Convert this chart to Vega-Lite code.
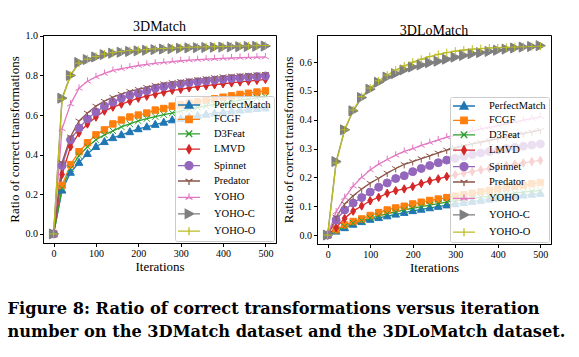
{
"$schema": "https://vega.github.io/schema/vega-lite/v6.json",
"background": "white",
"padding": {"left": 7, "top": 19, "right": 20, "bottom": 5},
"spacing": 4,
"config": {
 "font": "Liberation Serif",
 "view": {"stroke": "black", "strokeWidth": 1},
 "axis": {"grid": false, "domainColor": "black", "domainWidth": 1, "tickColor": "black", "tickSize": 3.5, "labelFont": "Liberation Serif", "labelFontSize": 10, "labelColor": "black", "labelPadding": 2, "titleFont": "Liberation Serif", "titleFontSize": 13, "titleFontWeight": "normal", "titleColor": "black"},
 "axisX": {"titlePadding": 2},
 "axisY": {"titlePadding": 4},
 "title": {"font": "Liberation Serif", "fontSize": 14, "fontWeight": "normal", "color": "black", "offset": -3, "baseline": "alphabetic", "anchor": "middle", "frame": "group"},
 "legend": {"orient": "bottom-right", "offset": 2, "fillColor": "rgba(255,255,255,0.8)", "strokeColor": "#cccccc", "padding": 3, "cornerRadius": 2, "labelFont": "Liberation Serif", "labelFontSize": 10.5, "labelColor": "black", "symbolSize": 100, "rowPadding": 2.4, "symbolOffset": 5, "labelOffset": 19, "symbolStrokeWidth": 1.3, "symbolOpacity": 1}
},
"title": {"text": ["Figure 8: Ratio of correct transformations versus iteration", "number on the 3DMatch dataset and the 3DLoMatch dataset."], "orient": "bottom", "anchor": "start", "font": "DejaVu Serif", "fontSize": 16.2, "fontWeight": "bold", "lineHeight": 22.7, "offset": 26, "dx": 0, "color": "black", "frame": "bounds", "baseline": "top"},
"resolve": {"scale": {"x": "independent", "y": "independent", "color": "independent", "shape": "independent", "fill": "independent", "stroke": "independent"}, "legend": {"shape": "independent", "fill": "independent", "stroke": "independent"}},
"datasets": {
"a": [
{"s":"PerfectMatch","x":0,"y":0},{"s":"PerfectMatch","x":20,"y":0.22},{"s":"PerfectMatch","x":40,"y":0.31},{"s":"PerfectMatch","x":60,"y":0.36},{"s":"PerfectMatch","x":80,"y":0.405},{"s":"PerfectMatch","x":100,"y":0.44},{"s":"PerfectMatch","x":120,"y":0.465},{"s":"PerfectMatch","x":140,"y":0.485},{"s":"PerfectMatch","x":160,"y":0.5},{"s":"PerfectMatch","x":180,"y":0.515},{"s":"PerfectMatch","x":200,"y":0.53},{"s":"PerfectMatch","x":220,"y":0.54},{"s":"PerfectMatch","x":240,"y":0.552},{"s":"PerfectMatch","x":260,"y":0.563},{"s":"PerfectMatch","x":280,"y":0.575},{"s":"PerfectMatch","x":300,"y":0.582},{"s":"PerfectMatch","x":320,"y":0.59},{"s":"PerfectMatch","x":340,"y":0.597},{"s":"PerfectMatch","x":360,"y":0.603},{"s":"PerfectMatch","x":380,"y":0.609},{"s":"PerfectMatch","x":400,"y":0.614},{"s":"PerfectMatch","x":420,"y":0.619},{"s":"PerfectMatch","x":440,"y":0.624},{"s":"PerfectMatch","x":460,"y":0.628},{"s":"PerfectMatch","x":480,"y":0.632},{"s":"PerfectMatch","x":500,"y":0.635},
{"s":"FCGF","x":0,"y":0},{"s":"FCGF","x":20,"y":0.245},{"s":"FCGF","x":40,"y":0.35},{"s":"FCGF","x":60,"y":0.415},{"s":"FCGF","x":80,"y":0.46},{"s":"FCGF","x":100,"y":0.5},{"s":"FCGF","x":120,"y":0.525},{"s":"FCGF","x":140,"y":0.555},{"s":"FCGF","x":160,"y":0.575},{"s":"FCGF","x":180,"y":0.59},{"s":"FCGF","x":200,"y":0.6},{"s":"FCGF","x":220,"y":0.61},{"s":"FCGF","x":240,"y":0.625},{"s":"FCGF","x":260,"y":0.633},{"s":"FCGF","x":280,"y":0.645},{"s":"FCGF","x":300,"y":0.652},{"s":"FCGF","x":320,"y":0.66},{"s":"FCGF","x":340,"y":0.667},{"s":"FCGF","x":360,"y":0.675},{"s":"FCGF","x":380,"y":0.682},{"s":"FCGF","x":400,"y":0.69},{"s":"FCGF","x":420,"y":0.697},{"s":"FCGF","x":440,"y":0.704},{"s":"FCGF","x":460,"y":0.71},{"s":"FCGF","x":480,"y":0.716},{"s":"FCGF","x":500,"y":0.722},
{"s":"D3Feat","x":0,"y":0},{"s":"D3Feat","x":20,"y":0.23},{"s":"D3Feat","x":40,"y":0.33},{"s":"D3Feat","x":60,"y":0.395},{"s":"D3Feat","x":80,"y":0.44},{"s":"D3Feat","x":100,"y":0.475},{"s":"D3Feat","x":120,"y":0.5},{"s":"D3Feat","x":140,"y":0.52},{"s":"D3Feat","x":160,"y":0.54},{"s":"D3Feat","x":180,"y":0.555},{"s":"D3Feat","x":200,"y":0.57},{"s":"D3Feat","x":220,"y":0.582},{"s":"D3Feat","x":240,"y":0.592},{"s":"D3Feat","x":260,"y":0.602},{"s":"D3Feat","x":280,"y":0.61},{"s":"D3Feat","x":300,"y":0.62},{"s":"D3Feat","x":320,"y":0.63},{"s":"D3Feat","x":340,"y":0.638},{"s":"D3Feat","x":360,"y":0.646},{"s":"D3Feat","x":380,"y":0.654},{"s":"D3Feat","x":400,"y":0.661},{"s":"D3Feat","x":420,"y":0.668},{"s":"D3Feat","x":440,"y":0.675},{"s":"D3Feat","x":460,"y":0.681},{"s":"D3Feat","x":480,"y":0.687},{"s":"D3Feat","x":500,"y":0.692},
{"s":"LMVD","x":0,"y":0},{"s":"LMVD","x":20,"y":0.3},{"s":"LMVD","x":40,"y":0.44},{"s":"LMVD","x":60,"y":0.51},{"s":"LMVD","x":80,"y":0.555},{"s":"LMVD","x":100,"y":0.59},{"s":"LMVD","x":120,"y":0.62},{"s":"LMVD","x":140,"y":0.64},{"s":"LMVD","x":160,"y":0.655},{"s":"LMVD","x":180,"y":0.67},{"s":"LMVD","x":200,"y":0.685},{"s":"LMVD","x":220,"y":0.695},{"s":"LMVD","x":240,"y":0.705},{"s":"LMVD","x":260,"y":0.715},{"s":"LMVD","x":280,"y":0.725},{"s":"LMVD","x":300,"y":0.73},{"s":"LMVD","x":320,"y":0.737},{"s":"LMVD","x":340,"y":0.743},{"s":"LMVD","x":360,"y":0.748},{"s":"LMVD","x":380,"y":0.753},{"s":"LMVD","x":400,"y":0.758},{"s":"LMVD","x":420,"y":0.762},{"s":"LMVD","x":440,"y":0.767},{"s":"LMVD","x":460,"y":0.771},{"s":"LMVD","x":480,"y":0.775},{"s":"LMVD","x":500,"y":0.78},
{"s":"Spinnet","x":0,"y":0},{"s":"Spinnet","x":20,"y":0.345},{"s":"Spinnet","x":40,"y":0.475},{"s":"Spinnet","x":60,"y":0.535},{"s":"Spinnet","x":80,"y":0.58},{"s":"Spinnet","x":100,"y":0.615},{"s":"Spinnet","x":120,"y":0.645},{"s":"Spinnet","x":140,"y":0.665},{"s":"Spinnet","x":160,"y":0.685},{"s":"Spinnet","x":180,"y":0.7},{"s":"Spinnet","x":200,"y":0.71},{"s":"Spinnet","x":220,"y":0.722},{"s":"Spinnet","x":240,"y":0.735},{"s":"Spinnet","x":260,"y":0.743},{"s":"Spinnet","x":280,"y":0.75},{"s":"Spinnet","x":300,"y":0.757},{"s":"Spinnet","x":320,"y":0.763},{"s":"Spinnet","x":340,"y":0.768},{"s":"Spinnet","x":360,"y":0.772},{"s":"Spinnet","x":380,"y":0.776},{"s":"Spinnet","x":400,"y":0.78},{"s":"Spinnet","x":420,"y":0.784},{"s":"Spinnet","x":440,"y":0.788},{"s":"Spinnet","x":460,"y":0.791},{"s":"Spinnet","x":480,"y":0.794},{"s":"Spinnet","x":500,"y":0.797},
{"s":"Predator","x":0,"y":0},{"s":"Predator","x":20,"y":0.36},{"s":"Predator","x":40,"y":0.49},{"s":"Predator","x":60,"y":0.57},{"s":"Predator","x":80,"y":0.61},{"s":"Predator","x":100,"y":0.645},{"s":"Predator","x":120,"y":0.67},{"s":"Predator","x":140,"y":0.69},{"s":"Predator","x":160,"y":0.705},{"s":"Predator","x":180,"y":0.72},{"s":"Predator","x":200,"y":0.73},{"s":"Predator","x":220,"y":0.74},{"s":"Predator","x":240,"y":0.75},{"s":"Predator","x":260,"y":0.758},{"s":"Predator","x":280,"y":0.765},{"s":"Predator","x":300,"y":0.77},{"s":"Predator","x":320,"y":0.775},{"s":"Predator","x":340,"y":0.78},{"s":"Predator","x":360,"y":0.785},{"s":"Predator","x":380,"y":0.79},{"s":"Predator","x":400,"y":0.794},{"s":"Predator","x":420,"y":0.797},{"s":"Predator","x":440,"y":0.8},{"s":"Predator","x":460,"y":0.802},{"s":"Predator","x":480,"y":0.804},{"s":"Predator","x":500,"y":0.806},
{"s":"YOHO","x":0,"y":0},{"s":"YOHO","x":20,"y":0.53},{"s":"YOHO","x":40,"y":0.655},{"s":"YOHO","x":60,"y":0.735},{"s":"YOHO","x":80,"y":0.77},{"s":"YOHO","x":100,"y":0.793},{"s":"YOHO","x":120,"y":0.81},{"s":"YOHO","x":140,"y":0.825},{"s":"YOHO","x":160,"y":0.834},{"s":"YOHO","x":180,"y":0.842},{"s":"YOHO","x":200,"y":0.85},{"s":"YOHO","x":220,"y":0.856},{"s":"YOHO","x":240,"y":0.862},{"s":"YOHO","x":260,"y":0.866},{"s":"YOHO","x":280,"y":0.87},{"s":"YOHO","x":300,"y":0.874},{"s":"YOHO","x":320,"y":0.877},{"s":"YOHO","x":340,"y":0.88},{"s":"YOHO","x":360,"y":0.882},{"s":"YOHO","x":380,"y":0.884},{"s":"YOHO","x":400,"y":0.886},{"s":"YOHO","x":420,"y":0.888},{"s":"YOHO","x":440,"y":0.89},{"s":"YOHO","x":460,"y":0.891},{"s":"YOHO","x":480,"y":0.892},{"s":"YOHO","x":500,"y":0.893},
{"s":"YOHO-C","x":0,"y":0},{"s":"YOHO-C","x":20,"y":0.685},{"s":"YOHO-C","x":40,"y":0.8},{"s":"YOHO-C","x":60,"y":0.865},{"s":"YOHO-C","x":80,"y":0.88},{"s":"YOHO-C","x":100,"y":0.893},{"s":"YOHO-C","x":120,"y":0.905},{"s":"YOHO-C","x":140,"y":0.912},{"s":"YOHO-C","x":160,"y":0.917},{"s":"YOHO-C","x":180,"y":0.921},{"s":"YOHO-C","x":200,"y":0.924},{"s":"YOHO-C","x":220,"y":0.927},{"s":"YOHO-C","x":240,"y":0.93},{"s":"YOHO-C","x":260,"y":0.933},{"s":"YOHO-C","x":280,"y":0.935},{"s":"YOHO-C","x":300,"y":0.937},{"s":"YOHO-C","x":320,"y":0.939},{"s":"YOHO-C","x":340,"y":0.94},{"s":"YOHO-C","x":360,"y":0.941},{"s":"YOHO-C","x":380,"y":0.942},{"s":"YOHO-C","x":400,"y":0.943},{"s":"YOHO-C","x":420,"y":0.944},{"s":"YOHO-C","x":440,"y":0.945},{"s":"YOHO-C","x":460,"y":0.946},{"s":"YOHO-C","x":480,"y":0.947},{"s":"YOHO-C","x":500,"y":0.948},
{"s":"YOHO-O","x":0,"y":0},{"s":"YOHO-O","x":20,"y":0.68},{"s":"YOHO-O","x":40,"y":0.8},{"s":"YOHO-O","x":60,"y":0.862},{"s":"YOHO-O","x":80,"y":0.882},{"s":"YOHO-O","x":100,"y":0.896},{"s":"YOHO-O","x":120,"y":0.908},{"s":"YOHO-O","x":140,"y":0.915},{"s":"YOHO-O","x":160,"y":0.92},{"s":"YOHO-O","x":180,"y":0.925},{"s":"YOHO-O","x":200,"y":0.928},{"s":"YOHO-O","x":220,"y":0.931},{"s":"YOHO-O","x":240,"y":0.934},{"s":"YOHO-O","x":260,"y":0.936},{"s":"YOHO-O","x":280,"y":0.938},{"s":"YOHO-O","x":300,"y":0.94},{"s":"YOHO-O","x":320,"y":0.942},{"s":"YOHO-O","x":340,"y":0.943},{"s":"YOHO-O","x":360,"y":0.944},{"s":"YOHO-O","x":380,"y":0.945},{"s":"YOHO-O","x":400,"y":0.946},{"s":"YOHO-O","x":420,"y":0.947},{"s":"YOHO-O","x":440,"y":0.948},{"s":"YOHO-O","x":460,"y":0.949},{"s":"YOHO-O","x":480,"y":0.95},{"s":"YOHO-O","x":500,"y":0.951}
],
"b": [
{"s":"PerfectMatch","x":0,"y":0},{"s":"PerfectMatch","x":20,"y":0.013},{"s":"PerfectMatch","x":40,"y":0.025},{"s":"PerfectMatch","x":60,"y":0.037},{"s":"PerfectMatch","x":80,"y":0.046},{"s":"PerfectMatch","x":100,"y":0.054},{"s":"PerfectMatch","x":120,"y":0.06},{"s":"PerfectMatch","x":140,"y":0.066},{"s":"PerfectMatch","x":160,"y":0.072},{"s":"PerfectMatch","x":180,"y":0.078},{"s":"PerfectMatch","x":200,"y":0.084},{"s":"PerfectMatch","x":220,"y":0.089},{"s":"PerfectMatch","x":240,"y":0.094},{"s":"PerfectMatch","x":260,"y":0.099},{"s":"PerfectMatch","x":280,"y":0.104},{"s":"PerfectMatch","x":300,"y":0.108},{"s":"PerfectMatch","x":320,"y":0.112},{"s":"PerfectMatch","x":340,"y":0.116},{"s":"PerfectMatch","x":360,"y":0.12},{"s":"PerfectMatch","x":380,"y":0.124},{"s":"PerfectMatch","x":400,"y":0.128},{"s":"PerfectMatch","x":420,"y":0.131},{"s":"PerfectMatch","x":440,"y":0.135},{"s":"PerfectMatch","x":460,"y":0.138},{"s":"PerfectMatch","x":480,"y":0.141},{"s":"PerfectMatch","x":500,"y":0.144},
{"s":"FCGF","x":0,"y":0},{"s":"FCGF","x":20,"y":0.018},{"s":"FCGF","x":40,"y":0.035},{"s":"FCGF","x":60,"y":0.047},{"s":"FCGF","x":80,"y":0.056},{"s":"FCGF","x":100,"y":0.068},{"s":"FCGF","x":120,"y":0.078},{"s":"FCGF","x":140,"y":0.087},{"s":"FCGF","x":160,"y":0.094},{"s":"FCGF","x":180,"y":0.1},{"s":"FCGF","x":200,"y":0.108},{"s":"FCGF","x":220,"y":0.114},{"s":"FCGF","x":240,"y":0.12},{"s":"FCGF","x":260,"y":0.125},{"s":"FCGF","x":280,"y":0.13},{"s":"FCGF","x":300,"y":0.135},{"s":"FCGF","x":320,"y":0.14},{"s":"FCGF","x":340,"y":0.145},{"s":"FCGF","x":360,"y":0.15},{"s":"FCGF","x":380,"y":0.155},{"s":"FCGF","x":400,"y":0.16},{"s":"FCGF","x":420,"y":0.164},{"s":"FCGF","x":440,"y":0.169},{"s":"FCGF","x":460,"y":0.173},{"s":"FCGF","x":480,"y":0.178},{"s":"FCGF","x":500,"y":0.182},
{"s":"D3Feat","x":0,"y":0},{"s":"D3Feat","x":20,"y":0.015},{"s":"D3Feat","x":40,"y":0.03},{"s":"D3Feat","x":60,"y":0.041},{"s":"D3Feat","x":80,"y":0.05},{"s":"D3Feat","x":100,"y":0.059},{"s":"D3Feat","x":120,"y":0.066},{"s":"D3Feat","x":140,"y":0.074},{"s":"D3Feat","x":160,"y":0.08},{"s":"D3Feat","x":180,"y":0.087},{"s":"D3Feat","x":200,"y":0.093},{"s":"D3Feat","x":220,"y":0.099},{"s":"D3Feat","x":240,"y":0.104},{"s":"D3Feat","x":260,"y":0.109},{"s":"D3Feat","x":280,"y":0.114},{"s":"D3Feat","x":300,"y":0.119},{"s":"D3Feat","x":320,"y":0.123},{"s":"D3Feat","x":340,"y":0.127},{"s":"D3Feat","x":360,"y":0.131},{"s":"D3Feat","x":380,"y":0.135},{"s":"D3Feat","x":400,"y":0.139},{"s":"D3Feat","x":420,"y":0.143},{"s":"D3Feat","x":440,"y":0.146},{"s":"D3Feat","x":460,"y":0.149},{"s":"D3Feat","x":480,"y":0.152},{"s":"D3Feat","x":500,"y":0.155},
{"s":"LMVD","x":0,"y":0},{"s":"LMVD","x":20,"y":0.026},{"s":"LMVD","x":40,"y":0.058},{"s":"LMVD","x":60,"y":0.083},{"s":"LMVD","x":80,"y":0.101},{"s":"LMVD","x":100,"y":0.119},{"s":"LMVD","x":120,"y":0.131},{"s":"LMVD","x":140,"y":0.145},{"s":"LMVD","x":160,"y":0.154},{"s":"LMVD","x":180,"y":0.16},{"s":"LMVD","x":200,"y":0.168},{"s":"LMVD","x":220,"y":0.179},{"s":"LMVD","x":240,"y":0.188},{"s":"LMVD","x":260,"y":0.195},{"s":"LMVD","x":280,"y":0.203},{"s":"LMVD","x":300,"y":0.209},{"s":"LMVD","x":320,"y":0.215},{"s":"LMVD","x":340,"y":0.22},{"s":"LMVD","x":360,"y":0.226},{"s":"LMVD","x":380,"y":0.231},{"s":"LMVD","x":400,"y":0.236},{"s":"LMVD","x":420,"y":0.241},{"s":"LMVD","x":440,"y":0.246},{"s":"LMVD","x":460,"y":0.25},{"s":"LMVD","x":480,"y":0.255},{"s":"LMVD","x":500,"y":0.259},
{"s":"Spinnet","x":0,"y":0},{"s":"Spinnet","x":20,"y":0.052},{"s":"Spinnet","x":40,"y":0.087},{"s":"Spinnet","x":60,"y":0.111},{"s":"Spinnet","x":80,"y":0.13},{"s":"Spinnet","x":100,"y":0.149},{"s":"Spinnet","x":120,"y":0.166},{"s":"Spinnet","x":140,"y":0.181},{"s":"Spinnet","x":160,"y":0.196},{"s":"Spinnet","x":180,"y":0.206},{"s":"Spinnet","x":200,"y":0.22},{"s":"Spinnet","x":220,"y":0.231},{"s":"Spinnet","x":240,"y":0.241},{"s":"Spinnet","x":260,"y":0.251},{"s":"Spinnet","x":280,"y":0.26},{"s":"Spinnet","x":300,"y":0.266},{"s":"Spinnet","x":320,"y":0.273},{"s":"Spinnet","x":340,"y":0.279},{"s":"Spinnet","x":360,"y":0.285},{"s":"Spinnet","x":380,"y":0.29},{"s":"Spinnet","x":400,"y":0.295},{"s":"Spinnet","x":420,"y":0.3},{"s":"Spinnet","x":440,"y":0.304},{"s":"Spinnet","x":460,"y":0.308},{"s":"Spinnet","x":480,"y":0.312},{"s":"Spinnet","x":500,"y":0.316},
{"s":"Predator","x":0,"y":0},{"s":"Predator","x":20,"y":0.062},{"s":"Predator","x":40,"y":0.108},{"s":"Predator","x":60,"y":0.136},{"s":"Predator","x":80,"y":0.16},{"s":"Predator","x":100,"y":0.18},{"s":"Predator","x":120,"y":0.197},{"s":"Predator","x":140,"y":0.215},{"s":"Predator","x":160,"y":0.231},{"s":"Predator","x":180,"y":0.245},{"s":"Predator","x":200,"y":0.255},{"s":"Predator","x":220,"y":0.265},{"s":"Predator","x":240,"y":0.275},{"s":"Predator","x":260,"y":0.285},{"s":"Predator","x":280,"y":0.295},{"s":"Predator","x":300,"y":0.302},{"s":"Predator","x":320,"y":0.309},{"s":"Predator","x":340,"y":0.316},{"s":"Predator","x":360,"y":0.322},{"s":"Predator","x":380,"y":0.328},{"s":"Predator","x":400,"y":0.334},{"s":"Predator","x":420,"y":0.34},{"s":"Predator","x":440,"y":0.346},{"s":"Predator","x":460,"y":0.352},{"s":"Predator","x":480,"y":0.358},{"s":"Predator","x":500,"y":0.364},
{"s":"YOHO","x":0,"y":0},{"s":"YOHO","x":20,"y":0.08},{"s":"YOHO","x":40,"y":0.13},{"s":"YOHO","x":60,"y":0.17},{"s":"YOHO","x":80,"y":0.2},{"s":"YOHO","x":100,"y":0.226},{"s":"YOHO","x":120,"y":0.246},{"s":"YOHO","x":140,"y":0.262},{"s":"YOHO","x":160,"y":0.277},{"s":"YOHO","x":180,"y":0.29},{"s":"YOHO","x":200,"y":0.3},{"s":"YOHO","x":220,"y":0.311},{"s":"YOHO","x":240,"y":0.321},{"s":"YOHO","x":260,"y":0.33},{"s":"YOHO","x":280,"y":0.34},{"s":"YOHO","x":300,"y":0.347},{"s":"YOHO","x":320,"y":0.354},{"s":"YOHO","x":340,"y":0.361},{"s":"YOHO","x":360,"y":0.368},{"s":"YOHO","x":380,"y":0.374},{"s":"YOHO","x":400,"y":0.38},{"s":"YOHO","x":420,"y":0.387},{"s":"YOHO","x":440,"y":0.393},{"s":"YOHO","x":460,"y":0.399},{"s":"YOHO","x":480,"y":0.405},{"s":"YOHO","x":500,"y":0.411},
{"s":"YOHO-C","x":0,"y":0},{"s":"YOHO-C","x":20,"y":0.255},{"s":"YOHO-C","x":40,"y":0.365},{"s":"YOHO-C","x":60,"y":0.431},{"s":"YOHO-C","x":80,"y":0.477},{"s":"YOHO-C","x":100,"y":0.506},{"s":"YOHO-C","x":120,"y":0.53},{"s":"YOHO-C","x":140,"y":0.548},{"s":"YOHO-C","x":160,"y":0.56},{"s":"YOHO-C","x":180,"y":0.573},{"s":"YOHO-C","x":200,"y":0.583},{"s":"YOHO-C","x":220,"y":0.59},{"s":"YOHO-C","x":240,"y":0.598},{"s":"YOHO-C","x":260,"y":0.603},{"s":"YOHO-C","x":280,"y":0.61},{"s":"YOHO-C","x":300,"y":0.617},{"s":"YOHO-C","x":320,"y":0.623},{"s":"YOHO-C","x":340,"y":0.629},{"s":"YOHO-C","x":360,"y":0.633},{"s":"YOHO-C","x":380,"y":0.637},{"s":"YOHO-C","x":400,"y":0.641},{"s":"YOHO-C","x":420,"y":0.645},{"s":"YOHO-C","x":440,"y":0.649},{"s":"YOHO-C","x":460,"y":0.652},{"s":"YOHO-C","x":480,"y":0.654},{"s":"YOHO-C","x":500,"y":0.657},
{"s":"YOHO-O","x":0,"y":0},{"s":"YOHO-O","x":20,"y":0.25},{"s":"YOHO-O","x":40,"y":0.365},{"s":"YOHO-O","x":60,"y":0.434},{"s":"YOHO-O","x":80,"y":0.48},{"s":"YOHO-O","x":100,"y":0.51},{"s":"YOHO-O","x":120,"y":0.535},{"s":"YOHO-O","x":140,"y":0.555},{"s":"YOHO-O","x":160,"y":0.572},{"s":"YOHO-O","x":180,"y":0.587},{"s":"YOHO-O","x":200,"y":0.6},{"s":"YOHO-O","x":220,"y":0.61},{"s":"YOHO-O","x":240,"y":0.619},{"s":"YOHO-O","x":260,"y":0.627},{"s":"YOHO-O","x":280,"y":0.633},{"s":"YOHO-O","x":300,"y":0.638},{"s":"YOHO-O","x":320,"y":0.642},{"s":"YOHO-O","x":340,"y":0.645},{"s":"YOHO-O","x":360,"y":0.647},{"s":"YOHO-O","x":380,"y":0.649},{"s":"YOHO-O","x":400,"y":0.65},{"s":"YOHO-O","x":420,"y":0.651},{"s":"YOHO-O","x":440,"y":0.652},{"s":"YOHO-O","x":460,"y":0.653},{"s":"YOHO-O","x":480,"y":0.654},{"s":"YOHO-O","x":500,"y":0.655}
]
},
"hconcat": [
{
 "width": 233, "height": 208,
 "title": {"text": "3DMatch"},
 "data": {"name": "a"},
 "resolve": {"scale": {"shape": "independent", "fill": "independent", "stroke": "independent"}, "legend": {"shape": "independent", "fill": "independent", "stroke": "independent"}},
 "encoding": {
  "x": {"field": "x", "type": "quantitative", "scale": {"domain": [-25, 525], "nice": false, "zero": false}, "axis": {"values": [0, 100, 200, 300, 400, 500], "title": "Iterations"}},
  "y": {"field": "y", "type": "quantitative", "scale": {"domain": [-0.046, 1.004], "nice": false, "zero": false}, "axis": {"values": [0, 0.2, 0.4, 0.6, 0.8, 1.0], "format": ".1f", "title": "Ratio of correct transformations"}}
 },
 "layer": [
  {"mark": {"type": "line", "strokeWidth": 1.3},
   "encoding": {"color": {"field": "s", "type": "nominal", "scale": {"domain": ["PerfectMatch","FCGF","D3Feat","LMVD","Spinnet","Predator","YOHO","YOHO-C","YOHO-O","~"], "range": ["#1f77b4","#ff7f0e","#2ca02c","#d62728","#9467bd","#8c564b","#e377c2","#7f7f7f","#bcbd22","#000000"]}, "legend": null}}},
  {"mark": {"type": "point", "opacity": 1, "strokeWidth": 1, "size": 64},
   "encoding": {
    "stroke": {"field": "s", "type": "nominal", "scale": {"domain": ["PerfectMatch","FCGF","D3Feat","LMVD","Spinnet","Predator","YOHO","YOHO-C","YOHO-O"], "range": ["#1f77b4","#ff7f0e","#2ca02c","#d62728","#9467bd","#8c564b","#e377c2","#7f7f7f","#bcbd22"]}, "legend": null},
    "fill": {"field": "s", "type": "nominal", "scale": {"domain": ["PerfectMatch","FCGF","D3Feat","LMVD","Spinnet","Predator","YOHO","YOHO-C","YOHO-O"], "range": ["#1f77b4","#ff7f0e","transparent","#d62728","#9467bd","transparent","transparent","#7f7f7f","transparent"]}, "legend": null},
    "shape": {"field": "s", "type": "nominal", "scale": {"domain": ["PerfectMatch","FCGF","D3Feat","LMVD","Spinnet","Predator","YOHO","YOHO-C","YOHO-O"], "range": ["M0,-1.05L0.95,0.7H-0.95Z","M-0.8,-0.8H0.8V0.8H-0.8Z","M-0.8,-0.8L0.8,0.8M-0.8,0.8L0.8,-0.8","M0,-1.05L0.6,0L0,1.05L-0.6,0Z","circle","M0,0V1M0,0L-0.87,-0.5M0,0L0.87,-0.5","M0,0V-1M0,0L-0.87,0.5M0,0L0.87,0.5","M-1.05,-1.25L1.25,0L-1.05,1.25Z","M-1,0H1M0,-1V1"]}, "legend": null}
   }},
  {"transform": [{"filter": "datum.x == 0"}],
   "mark": {"type": "point", "opacity": 0, "strokeWidth": 1.3, "size": 100},
   "encoding": {
    "stroke": {"field": "s", "type": "nominal", "scale": {"domain": ["PerfectMatch","FCGF","D3Feat","LMVD","Spinnet","Predator","YOHO","YOHO-C","YOHO-O"], "range": ["#1f77b4","#ff7f0e","#2ca02c","#d62728","#9467bd","#8c564b","#e377c2","#7f7f7f","#bcbd22"]}, "legend": {"title": null, "orient": "bottom-right", "symbolOpacity": 1, "labelFont": "Liberation Serif", "labelFontSize": 10.5, "rowPadding": 2.4, "symbolOffset": 5, "labelOffset": 19, "strokeColor": "#cccccc", "fillColor": "rgba(255,255,255,0.8)", "padding": 3, "offset": 2}},
    "fill": {"field": "s", "type": "nominal", "scale": {"domain": ["PerfectMatch","FCGF","D3Feat","LMVD","Spinnet","Predator","YOHO","YOHO-C","YOHO-O"], "range": ["#1f77b4","#ff7f0e","transparent","#d62728","#9467bd","transparent","transparent","#7f7f7f","transparent"]}, "legend": {"title": null, "orient": "bottom-right", "symbolOpacity": 1, "labelFont": "Liberation Serif", "labelFontSize": 10.5, "rowPadding": 2.4, "symbolOffset": 5, "labelOffset": 19, "strokeColor": "#cccccc", "fillColor": "rgba(255,255,255,0.8)", "padding": 3, "offset": 2}},
    "shape": {"field": "s", "type": "nominal", "scale": {"domain": ["PerfectMatch","FCGF","D3Feat","LMVD","Spinnet","Predator","YOHO","YOHO-C","YOHO-O"], "range": ["M-2.2,0H2.2M0,-0.85L0.8,0.6H-0.8Z","M-2.2,0H2.2M-0.65,-0.65H0.65V0.65H-0.65Z","M-2.2,0H2.2M-0.65,-0.65L0.65,0.65M-0.65,0.65L0.65,-0.65","M-2.2,0H2.2M0,-0.85L0.5,0L0,0.85L-0.5,0Z","M-2.2,0H2.2M0.8,0A0.8,0.8,0,1,1,-0.8,0A0.8,0.8,0,1,1,0.8,0Z","M-2.2,0H2.2M0,0V0.8M0,0L-0.7,-0.4M0,0L0.7,-0.4","M-2.2,0H2.2M0,0V-0.8M0,0L-0.7,0.4M0,0L0.7,0.4","M-2.2,0H2.2M-0.75,-0.9L0.95,0L-0.75,0.9Z","M-2.2,0H2.2M0,-0.8V0.8"]}, "legend": {"title": null, "orient": "bottom-right", "symbolOpacity": 1, "labelFont": "Liberation Serif", "labelFontSize": 10.5, "rowPadding": 2.4, "symbolOffset": 5, "labelOffset": 19, "strokeColor": "#cccccc", "fillColor": "rgba(255,255,255,0.8)", "padding": 3, "offset": 2}}
   }}
 ]
},
{
 "width": 234, "height": 209,
 "title": {"text": "3DLoMatch"},
 "data": {"name": "b"},
 "resolve": {"scale": {"shape": "independent", "fill": "independent", "stroke": "independent"}, "legend": {"shape": "independent", "fill": "independent", "stroke": "independent"}},
 "encoding": {
  "x": {"field": "x", "type": "quantitative", "scale": {"domain": [-25, 525], "nice": false, "zero": false}, "axis": {"values": [0, 100, 200, 300, 400, 500], "title": "Iterations"}},
  "y": {"field": "y", "type": "quantitative", "scale": {"domain": [-0.031, 0.694], "nice": false, "zero": false}, "axis": {"values": [0, 0.1, 0.2, 0.3, 0.4, 0.5, 0.6], "format": ".1f", "title": "Ratio of correct transformations"}}
 },
 "layer": [
  {"mark": {"type": "line", "strokeWidth": 1.3},
   "encoding": {"color": {"field": "s", "type": "nominal", "scale": {"domain": ["PerfectMatch","FCGF","D3Feat","LMVD","Spinnet","Predator","YOHO","YOHO-C","YOHO-O","~"], "range": ["#1f77b4","#ff7f0e","#2ca02c","#d62728","#9467bd","#8c564b","#e377c2","#7f7f7f","#bcbd22","#000000"]}, "legend": null}}},
  {"mark": {"type": "point", "opacity": 1, "strokeWidth": 1, "size": 64},
   "encoding": {
    "stroke": {"field": "s", "type": "nominal", "scale": {"domain": ["PerfectMatch","FCGF","D3Feat","LMVD","Spinnet","Predator","YOHO","YOHO-C","YOHO-O"], "range": ["#1f77b4","#ff7f0e","#2ca02c","#d62728","#9467bd","#8c564b","#e377c2","#7f7f7f","#bcbd22"]}, "legend": null},
    "fill": {"field": "s", "type": "nominal", "scale": {"domain": ["PerfectMatch","FCGF","D3Feat","LMVD","Spinnet","Predator","YOHO","YOHO-C","YOHO-O"], "range": ["#1f77b4","#ff7f0e","transparent","#d62728","#9467bd","transparent","transparent","#7f7f7f","transparent"]}, "legend": null},
    "shape": {"field": "s", "type": "nominal", "scale": {"domain": ["PerfectMatch","FCGF","D3Feat","LMVD","Spinnet","Predator","YOHO","YOHO-C","YOHO-O"], "range": ["M0,-1.05L0.95,0.7H-0.95Z","M-0.8,-0.8H0.8V0.8H-0.8Z","M-0.8,-0.8L0.8,0.8M-0.8,0.8L0.8,-0.8","M0,-1.05L0.6,0L0,1.05L-0.6,0Z","circle","M0,0V1M0,0L-0.87,-0.5M0,0L0.87,-0.5","M0,0V-1M0,0L-0.87,0.5M0,0L0.87,0.5","M-1.05,-1.25L1.25,0L-1.05,1.25Z","M-1,0H1M0,-1V1"]}, "legend": null}
   }},
  {"transform": [{"filter": "datum.x == 0"}],
   "mark": {"type": "point", "opacity": 0, "strokeWidth": 1.3, "size": 100},
   "encoding": {
    "stroke": {"field": "s", "type": "nominal", "scale": {"domain": ["PerfectMatch","FCGF","D3Feat","LMVD","Spinnet","Predator","YOHO","YOHO-C","YOHO-O"], "range": ["#1f77b4","#ff7f0e","#2ca02c","#d62728","#9467bd","#8c564b","#e377c2","#7f7f7f","#bcbd22"]}, "legend": {"title": null, "orient": "bottom-right", "symbolOpacity": 1, "labelFont": "Liberation Serif", "labelFontSize": 10.5, "rowPadding": 2.4, "symbolOffset": 5, "labelOffset": 19, "strokeColor": "#cccccc", "fillColor": "rgba(255,255,255,0.8)", "padding": 3, "offset": 2}},
    "fill": {"field": "s", "type": "nominal", "scale": {"domain": ["PerfectMatch","FCGF","D3Feat","LMVD","Spinnet","Predator","YOHO","YOHO-C","YOHO-O"], "range": ["#1f77b4","#ff7f0e","transparent","#d62728","#9467bd","transparent","transparent","#7f7f7f","transparent"]}, "legend": {"title": null, "orient": "bottom-right", "symbolOpacity": 1, "labelFont": "Liberation Serif", "labelFontSize": 10.5, "rowPadding": 2.4, "symbolOffset": 5, "labelOffset": 19, "strokeColor": "#cccccc", "fillColor": "rgba(255,255,255,0.8)", "padding": 3, "offset": 2}},
    "shape": {"field": "s", "type": "nominal", "scale": {"domain": ["PerfectMatch","FCGF","D3Feat","LMVD","Spinnet","Predator","YOHO","YOHO-C","YOHO-O"], "range": ["M-2.2,0H2.2M0,-0.85L0.8,0.6H-0.8Z","M-2.2,0H2.2M-0.65,-0.65H0.65V0.65H-0.65Z","M-2.2,0H2.2M-0.65,-0.65L0.65,0.65M-0.65,0.65L0.65,-0.65","M-2.2,0H2.2M0,-0.85L0.5,0L0,0.85L-0.5,0Z","M-2.2,0H2.2M0.8,0A0.8,0.8,0,1,1,-0.8,0A0.8,0.8,0,1,1,0.8,0Z","M-2.2,0H2.2M0,0V0.8M0,0L-0.7,-0.4M0,0L0.7,-0.4","M-2.2,0H2.2M0,0V-0.8M0,0L-0.7,0.4M0,0L0.7,0.4","M-2.2,0H2.2M-0.75,-0.9L0.95,0L-0.75,0.9Z","M-2.2,0H2.2M0,-0.8V0.8"]}, "legend": {"title": null, "orient": "bottom-right", "symbolOpacity": 1, "labelFont": "Liberation Serif", "labelFontSize": 10.5, "rowPadding": 2.4, "symbolOffset": 5, "labelOffset": 19, "strokeColor": "#cccccc", "fillColor": "rgba(255,255,255,0.8)", "padding": 3, "offset": 2}}
   }}
 ]
}
]
}
